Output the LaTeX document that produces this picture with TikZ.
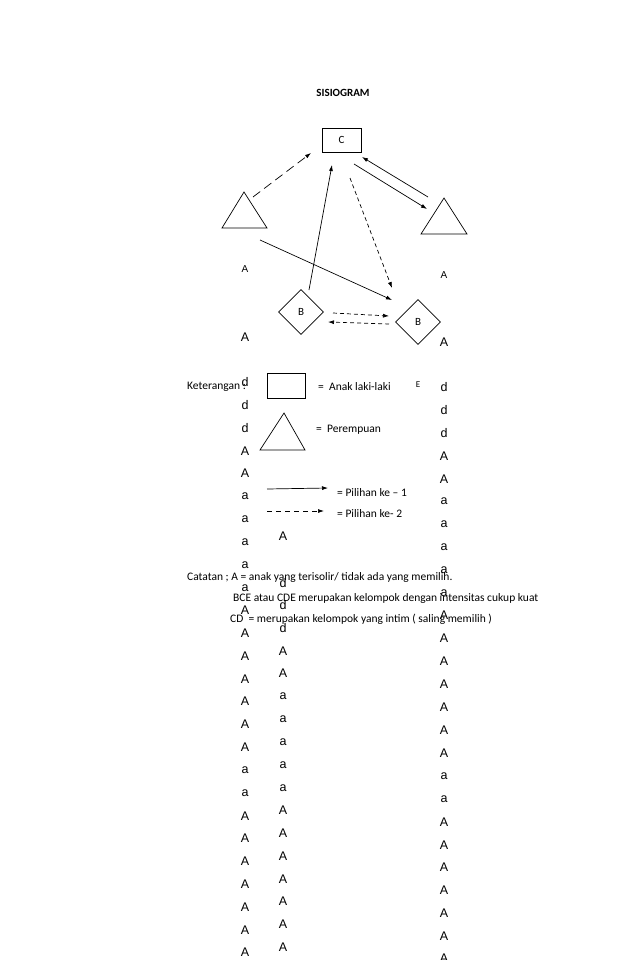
\documentclass[tikz,border=0pt]{standalone}
\usepackage{fontspec}
\setmainfont{Carlito}
\newfontfamily\colfont{Liberation Sans}
\usetikzlibrary{arrows.meta,shapes.geometric}
\begin{document}
\begin{tikzpicture}[x=1pt,y=-1pt,
  lbl/.style={font=\fontsize{11}{13}\selectfont,inner sep=0pt},
  txt/.style={font=\fontsize{11.5}{13}\selectfont,inner sep=0pt,anchor=west},
  col/.style={font=\colfont\fontsize{12.5}{14}\selectfont,inner sep=0pt},
  colsm/.style={font=\colfont\fontsize{10}{11}\selectfont,inner sep=0pt},
  arr/.style={-{Latex[length=6pt,width=4pt]},line width=0.7pt},
  darr/.style={arr,dash pattern=on 5pt off 4pt},
  ln/.style={line width=0.7pt}]
\useasboundingbox (0,0) rectangle (638,960);
\node[lbl,font=\bfseries\fontsize{11}{13}\selectfont] (title) at (343,93) {SISIOGRAM};
% sociogram
\node[draw,ln,minimum width=39pt,minimum height=24pt,lbl] (C) at (341.5,140) {C};
\draw[ln] (244,192) -- (267,228) -- (222,228) -- cycle;
\draw[ln] (444,198) -- (467,234) -- (421,234) -- cycle;
\node[draw,ln,diamond,minimum width=45pt,minimum height=45pt,inner sep=0pt,lbl] (B1) at (301,312) {B};
\node[draw,ln,diamond,minimum width=45pt,minimum height=45pt,inner sep=0pt,lbl] (B2) at (418,322) {B};
\coordinate (a1s) at (253,197); \coordinate (a1e) at (311,153);
\draw[darr,dash pattern=on 9pt off 5pt] (a1s) -- (a1e);
\coordinate (a2s) at (309,290); \coordinate (a2e) at (332,165);
\draw[arr] (a2s) -- (a2e);
\coordinate (a3s) at (350,178); \coordinate (a3e) at (392,288);
\draw[darr,dash pattern=on 4pt off 3pt] (a3s) -- (a3e);
\coordinate (a4s) at (354,164); \coordinate (a4e) at (427,209);
\draw[arr] (a4s) -- (a4e);
\coordinate (a5s) at (428,197); \coordinate (a5e) at (362,157);
\draw[arr] (a5s) -- (a5e);
\coordinate (a6s) at (260,240); \coordinate (a6e) at (392,300);
\draw[arr] (a6s) -- (a6e);
\coordinate (a7s) at (333,313); \coordinate (a7e) at (389,316);
\draw[darr,dash pattern=on 4pt off 3pt] (a7s) -- (a7e);
\coordinate (a8s) at (389,324); \coordinate (a8e) at (328,322);
\draw[darr,dash pattern=on 4pt off 3pt] (a8s) -- (a8e);
\node[colsm] (la) at (245,269) {A};
\node[colsm] (ra) at (444,275) {A};
% legend
\node[txt] (ket) at (187,387) {Keterangan :};
\node[draw,ln,minimum width=38pt,minimum height=25pt,inner sep=0pt] (lr) at (286,385.5) {};
\node[txt] (lrt) at (318,387) {=\ \ Anak laki-laki};
\node[colsm,font=\fontsize{9}{10}\selectfont] (E) at (418,385) {E};
\draw[ln] (284,413) -- (305,450) -- (260,450) -- cycle;
\node[txt] (ltt) at (316,430) {=\ \ Perempuan};
\coordinate (l1s) at (267,489); \coordinate (l1e) at (328,488);
\draw[arr] (l1s) -- (l1e);
\node[txt] (l1t) at (337,493) {= Pilihan ke -- 1};
\coordinate (l2s) at (267,511); \coordinate (l2e) at (324,511);
\draw[darr,dash pattern=on 5pt off 4pt] (l2s) -- (l2e);
\node[txt] (l2t) at (337,514) {= Pilihan ke- 2};
% columns
\foreach \y/\t [count=\i] in {337/A,382/d,405/d,428/d,451/A,473/A,496/a,519/a,542/a,565/a,588/a,610/A,633/A,656/A,679/A,701/A,724/A,747/A,770/a,793/a,816/A,838/A,861/A,884/A,907/A,930/A,952/A}
  \node[col] (L\i) at (245,\y) {\t};
\foreach \y/\t [count=\i] in {536/A,583/d,605/d,628/d,651/A,673/A,696/a,719/a,742/a,765/a,788/a,810/A,833/A,856/A,879/A,901/A,924/A,947/A}
  \node[col] (M\i) at (283,\y) {\t};
\foreach \y/\t [count=\i] in {342/A,387/d,410/d,433/d,456/A,479/A,501/a,524/a,547/a,570/a,593/a,615/A,638/A,661/A,684/A,707/A,730/A,753/A,776/a,799/a,822/A,845/A,867/A,890/A,913/A,936/A,958/A}
  \node[col] (R\i) at (444,\y) {\t};
% notes
\node[txt] (cat) at (187,577) {Catatan ; A = anak yang terisolir/ tidak ada yang memilih.};
\node[txt] (bce) at (233,598) {BCE atau CDE merupakan kelompok dengan intensitas cukup kuat};
\node[txt] (cd) at (230,619) {CD\ \ = merupakan kelompok yang intim ( saling memilih )};
\end{tikzpicture}
\end{document}
